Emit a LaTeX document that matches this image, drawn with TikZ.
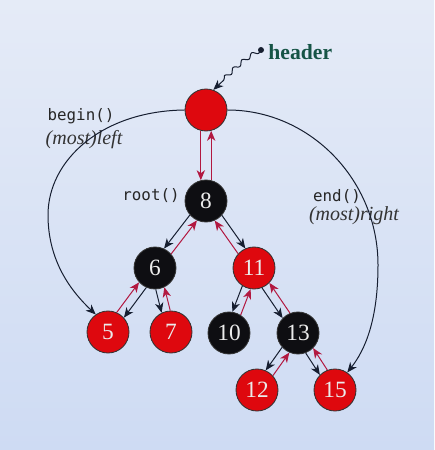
\documentclass[tikz,border=0pt]{standalone}
\usepackage{fontspec}
\setmainfont{Liberation Serif}
\setmonofont{DejaVu Sans Mono}
\usetikzlibrary{arrows.meta}
\usetikzlibrary{decorations.pathmorphing}

\definecolor{bgtop}{RGB}{229,235,247}
\definecolor{bgbot}{RGB}{206,219,243}
\definecolor{nodered}{RGB}{222,8,14}
\definecolor{nodeblack}{RGB}{14,14,18}
\definecolor{ptrdark}{RGB}{22,30,48}
\definecolor{ptrred}{RGB}{178,24,64}
\definecolor{hdrgreen}{RGB}{22,84,70}

\tikzset{
  rbnode/.style={circle, minimum size=25.2pt, inner sep=0pt, draw=black!80, line width=0.5pt,
    text=white!92!black, font=\fontsize{14}{14}\selectfont},
  rednode/.style={rbnode, fill=nodered},
  blacknode/.style={rbnode, fill=nodeblack},
  childptr/.style={draw=ptrdark, line width=0.6pt, -{Stealth[length=6pt,width=5pt,inset=1.8pt]}},
  parentptr/.style={draw=ptrred, line width=0.6pt, -{Stealth[length=6pt,width=5pt,inset=1.8pt]}},
  monotext/.style={font=\ttfamily\fontsize{9.5}{11}\selectfont, text=black!85, inner sep=0pt},
  slanttext/.style={font=\itshape\fontsize{12}{13}\selectfont, text=black!80, inner sep=0pt}
}

\begin{document}
\begin{tikzpicture}[x=0.6pt, y=-0.6pt]
          \shade[top color=bgtop, bottom color=bgbot] (0,0) rectangle (434,450);
          \useasboundingbox (0,0) rectangle (434,450);

          % header node and tree
          \node[rednode] (hdr) at (206,110) {};
          \node[blacknode] (n8) at (206,201) {8};
          \node[blacknode] (n6) at (155,268) {6};
          \node[rednode] (n11) at (254,268) {11};
          \node[rednode] (n5) at (108,332) {5};
          \node[rednode] (n7) at (171,332) {7};
          \node[blacknode] (n10) at (229,333) {10};
          \node[blacknode] (n13) at (298,333) {13};
          \node[rednode] (n12) at (257,390) {12};
          \node[rednode] (n15) at (335,390) {15};

          % header variable
          \fill[ptrdark] (261,50) circle (1.8pt) coordinate (hvar);
          \node[anchor=west, inner sep=0pt, text=hdrgreen, font=\bfseries\fontsize{13}{13}\selectfont] (hlabel) at (268,52) {header};
          \draw[ptrdark, line width=0.6pt, -{Stealth[length=6pt,width=5pt,inset=1.8pt]},
                decorate, decoration={snake, amplitude=1.2pt, segment length=7pt, post length=7pt}]
          (hvar) .. controls (245,58) and (235,70) .. (hdr.70);

          % labels
          \node[monotext] (lbegin) at (81,116) {begin()};
          \node[slanttext] (lleft) at (84,140) {(most)left};
          \node[monotext] (lroot) at (151,196) {root()};
          \node[monotext] (lend) at (337,197) {end()};
          \node[slanttext] (lright) at (354,216) {(most)right};

          % header <-> root
          \draw[parentptr] (hdr.256) -- (n8.104);
          \draw[parentptr] (n8.76) -- (hdr.284);

          % child pointers
          \draw[childptr] (n8.221) -- (n6.65);
          \draw[childptr] (n8.318) -- (n11.114);
          \draw[childptr] (n6.246) -- (n5.42);
          \draw[childptr] (n6.272) -- (n7.116);
          \draw[childptr] (n11.237) -- (n10.81);
          \draw[childptr] (n11.292) -- (n13.136);
          \draw[childptr] (n13.222) -- (n12.66);
          \draw[childptr] (n13.291) -- (n15.135);

          % parent pointers
          \draw[parentptr] (n6.41) -- (n8.245);
          \draw[parentptr] (n11.138) -- (n8.294);
          \draw[parentptr] (n5.66) -- (n6.222);
          \draw[parentptr] (n7.92) -- (n6.296);
          \draw[parentptr] (n10.57) -- (n11.261);
          \draw[parentptr] (n13.112) -- (n11.316);
          \draw[parentptr] (n12.42) -- (n13.246);
          \draw[parentptr] (n15.111) -- (n13.315);

          % leftmost and rightmost
          \draw[childptr] (hdr.west) .. controls (102,111) and (48,160) .. (48,215)
                .. controls (48,262) and (72,292) .. (n5.125);
          \draw[childptr] (hdr.east) .. controls (310,110) and (378,180) .. (378,265)
                .. controls (378,320) and (365,350) .. (n15.55);

        \end{tikzpicture}
\end{document}
